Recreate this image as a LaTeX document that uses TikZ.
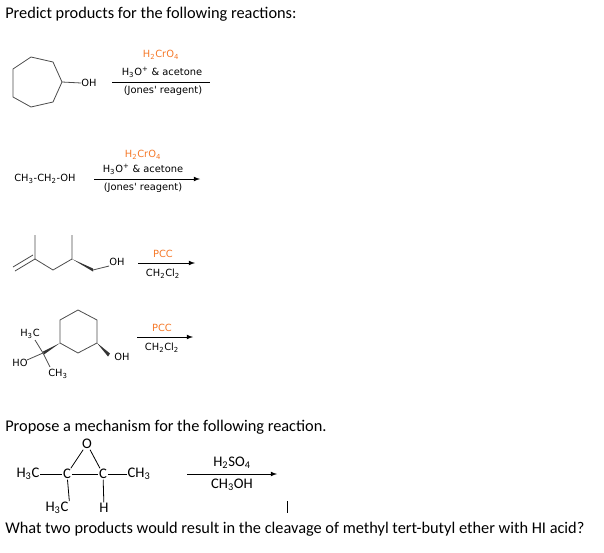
\documentclass[tikz,border=0pt]{standalone}
\usepackage{fontspec}
\setmainfont{Carlito}
\newfontfamily\vfont{DejaVu Sans}
\newcommand\smfont{\fontsize{7.4}{9}\vfont}
\definecolor{org}{RGB}{245,120,40}
\begin{document}
\begin{tikzpicture}[x=0.75pt,y=-0.75pt,
  big/.style={anchor=west,inner sep=0pt,font=\fontsize{12.25}{14}\selectfont},
  sm/.style={inner sep=0pt,font=\smfont},
  og/.style={sm,text=org},
  bond/.style={draw=black!70,line width=0.6pt},
  arr/.style={draw=black,line width=0.6pt,-latex}]
\useasboundingbox (0,0) rectangle (604,553);
\node[big] (t1) at (5,14) {Predict products for the following reactions:};
% 1
\draw[bond] (31,57)--(53,62)--(62,82)--(53,102)--(31,107)--(13,97)--(13,69)--cycle;
\node[sm] (oh1) at (89,83) {OH};
\draw[bond] (62,82)--(oh1.west);
\node[og] (r1a) at (161,55) {H\textsubscript{2}CrO\textsubscript{4}};
\node[sm] (r1b) at (162,72) {H\textsubscript{3}O\textsuperscript{+} \& acetone};
\node[sm] (r1c) at (163,91) {(Jones' reagent)};
\coordinate (a1s) at (112,82); \coordinate (a1e) at (210,82);
\draw[bond,black] (a1s)--(a1e);
% 2
\node[sm] (e2) at (45,179) {CH\textsubscript{3}-CH\textsubscript{2}-OH};
\node[og] (r2a) at (143,155) {H\textsubscript{2}CrO\textsubscript{4}};
\node[sm] (r2b) at (143,169) {H\textsubscript{3}O\textsuperscript{+} \& acetone};
\node[sm] (r2c) at (143,188) {(Jones' reagent)};
\coordinate (a2s) at (94,179); \coordinate (a2e) at (200,179);
\draw[arr] (a2s)--(a2e);
% 3
\draw[bond] (15,271)--(35,259)--(35,235);
\draw[bond] (13,267)--(33,255);
\draw[bond] (35,259)--(53,270)--(72,259)--(72,235);
\fill[black!80] (72,259)--(93,268.5)--(93,271.5)--cycle;
\node[sm] (oh3) at (117,262) {OH};
\draw[bond] (93,270)--(oh3.south west);
\node[og] (r3a) at (163,254) {PCC};
\node[sm] (r3b) at (163,274) {CH\textsubscript{2}Cl\textsubscript{2}};
\coordinate (a3s) at (138,263); \coordinate (a3e) at (195,263);
\draw[arr] (a3s)--(a3e);
% 4
\draw[bond] (78,310)--(97,320)--(97,343)--(78,353)--(60,343)--(60,320)--cycle;
\fill[black!80] (97,343)--(110,353.5)--(108,356.5)--cycle;
\node[sm] (oh4) at (122,357) {OH};
\fill[black!80] (60,343)--(43,351.5)--(44,354.5)--cycle;
\node[sm] (h3c4) at (30,334) {H\textsubscript{3}C};
\node[sm] (ho4) at (20,363) {HO};
\node[sm] (ch34) at (58,374) {CH\textsubscript{3}};
\draw[bond] (43,353)--(35,340);
\draw[bond] (43,353)--(27,360);
\draw[bond] (43,353)--(50,367);
\node[og] (r4a) at (162,328) {PCC};
\node[sm] (r4b) at (162,348) {CH\textsubscript{2}Cl\textsubscript{2}};
\coordinate (a4s) at (137,337); \coordinate (a4e) at (193,337);
\draw[arr] (a4s)--(a4e);
% 5
\node[big] (t2) at (5,427) {Propose a mechanism for the following reaction.};
\begin{scope}[every node/.style={inner sep=0.5pt,font=\fontsize{11}{13}\selectfont}]
\node (o5) at (87,444) {O};
\node (h3c5) at (28,474) {H\textsubscript{3}C};
\node (c1) at (67,474) {C};
\node (c2) at (103,474) {C};
\node (ch35) at (139,474) {CH\textsubscript{3}};
\node (h3cb) at (57,508) {H\textsubscript{3}C};
\node (h5) at (104,508) {H};
\node (r5a) at (232,463) {H\textsubscript{2}SO\textsubscript{4}};
\node (r5b) at (232,485) {CH\textsubscript{3}OH};
\end{scope}
\draw[bond,black] (h3c5)--(c1)--(c2)--(ch35);
\draw[bond,black] (c1)--(o5)--(c2);
\draw[bond,black] (c1)--(h3cb.north east);
\draw[bond,black] (c2)--(h5);
\coordinate (a5s) at (187,474); \coordinate (a5e) at (277,474);
\draw[arr] (a5s)--(a5e);
\coordinate (cur1) at (287,501); \coordinate (cur2) at (287,513);
\draw[black,line width=0.6pt] (cur1)--(cur2);
\node[big] (t3) at (5,529) {What two products would result in the cleavage of methyl tert-butyl ether with HI acid?};
\end{tikzpicture}
\end{document}
